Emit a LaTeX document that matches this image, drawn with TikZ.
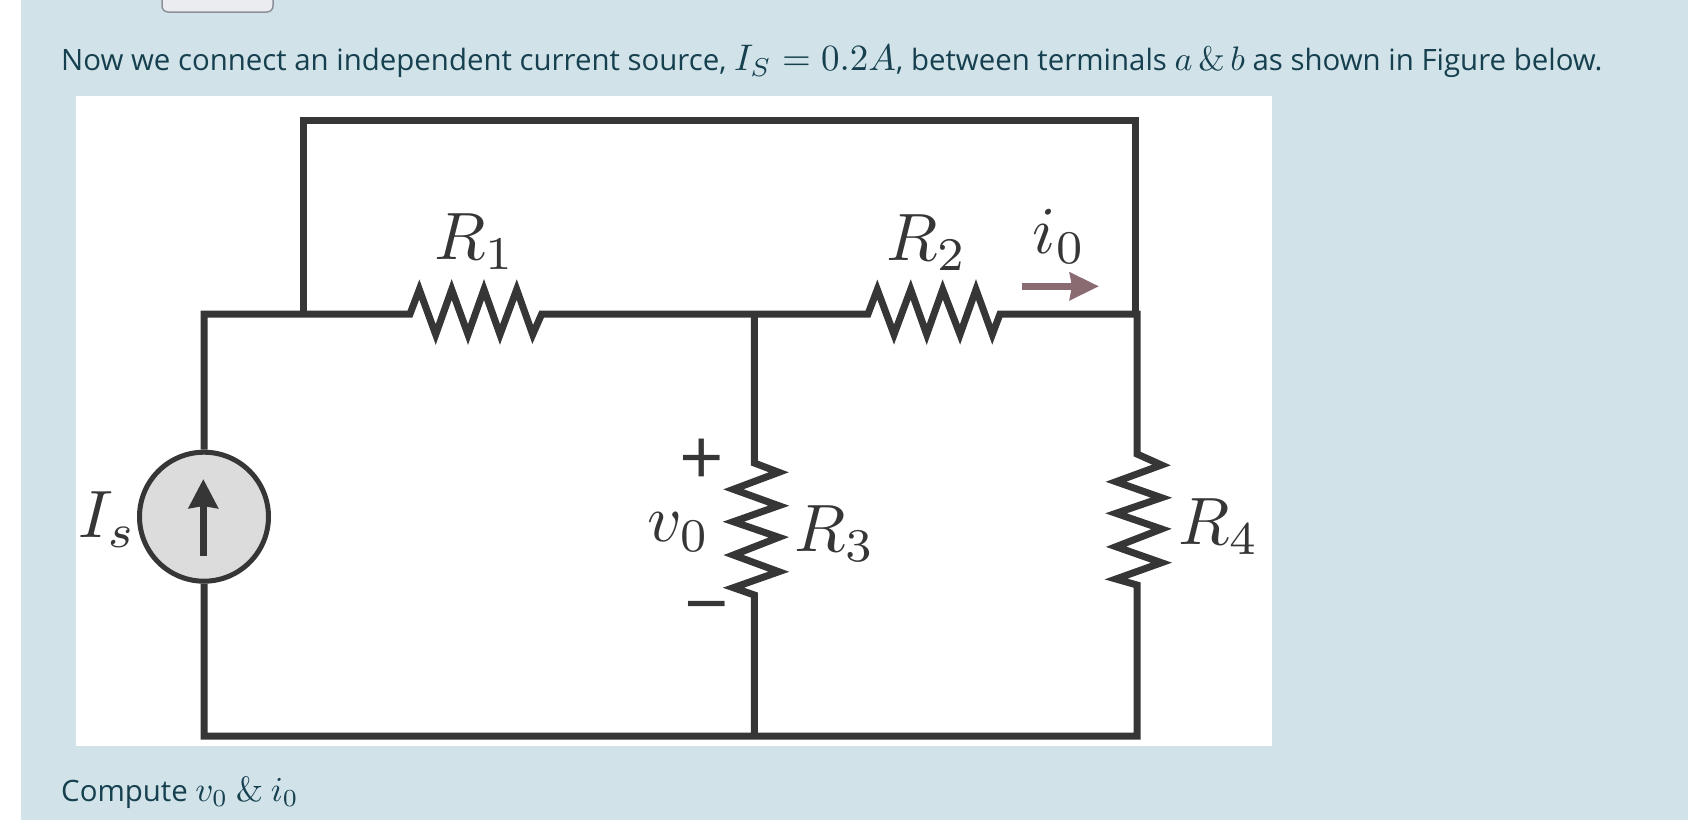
\documentclass[tikz,border=0pt]{standalone}
\usepackage[no-math]{fontspec}
\setmainfont{Open Sans}
\usetikzlibrary{arrows.meta}
\newlength{\du}
\setlength{\du}{1pt}
\newcommand{\bigmath}[1]{\scalebox{6.7}{\(#1\)}}
\newcommand{\textmath}[2][3.7]{\scalebox{#1}{\fontsize{10}{12}\selectfont\(#2\)}}
\tikzset{
  wire/.style={draw=wirecolor,line width=7\du,miter limit=10},
  biglabel/.style={inner sep=0pt,anchor=base west,text=wirecolor},
  signlabel/.style={inner sep=0pt,anchor=base,text=wirecolor,font=\fontsize{78}{78}\selectfont},
  bodytext/.style={inner sep=0pt,anchor=base west,text=textcolor,font=\fontsize{29.4}{32}\selectfont},
}
\begin{document}
\begin{tikzpicture}
\pgftransformxscale{1.000000}
\pgftransformyscale{-1.000000}
\definecolor{wirecolor}{rgb}{0.211765, 0.211765, 0.211765}
\definecolor{textcolor}{rgb}{0.086275, 0.250980, 0.309804}
\definecolor{panelcolor}{rgb}{0.819608, 0.890196, 0.909804}
\definecolor{sourcecolor}{rgb}{0.862745, 0.862745, 0.862745}
\definecolor{currentcolor}{rgb}{0.541176, 0.419608, 0.447059}
\definecolor{buttoncolor}{rgb}{0.921569, 0.925490, 0.941176}
\definecolor{buttonline}{rgb}{0.549020, 0.564706, 0.600000}
\path[use as bounding box,clip] (0\du,0\du) rectangle (1688\du,820\du);
\fill[white] (0\du,0\du) rectangle (1688\du,820\du);
\fill[panelcolor] (21\du,0\du) rectangle (1688\du,820\du);
\fill[white] (76\du,96\du) rectangle (1272\du,745.5\du);
\draw[fill=buttoncolor,draw=buttonline,line width=1.5\du,rounded corners=6\du] (162\du,-12\du) rectangle (273\du,12\du);
% texts
\node[bodytext] (question) at (61\du,70.5\du){Now we connect an independent current source, \textmath{I_S = 0.2A}, between terminals \textmath[3.4]{a\,\&\,b} as shown in Figure below.};
\node[bodytext] (task) at (61\du,801\du){Compute \textmath[3.5]{v_0 \mathbin{\&} i_0}};
% corners and junctions
\coordinate (topleft) at (303.000000\du,120.500000\du);
\coordinate (topright) at (1135.500000\du,120.500000\du);
\coordinate (leftfork) at (303.000000\du,314.000000\du);
\coordinate (rightfork) at (1135.500000\du,314.000000\du);
\coordinate (leftcorner) at (204.000000\du,314.000000\du);
\coordinate (midfork) at (754.300000\du,314.000000\du);
\coordinate (rightcorner) at (1137.000000\du,314.000000\du);
\coordinate (bottomleft) at (204.000000\du,736.200000\du);
\coordinate (bottommid) at (754.300000\du,736.200000\du);
\coordinate (bottomright) at (1137.000000\du,736.200000\du);
% resistor ends
\coordinate (rone1) at (410.000000\du,314.000000\du);
\coordinate (rone2) at (541.700000\du,314.000000\du);
\coordinate (rtwo1) at (868.000000\du,314.000000\du);
\coordinate (rtwo2) at (1000.000000\du,314.000000\du);
\coordinate (rthree1) at (754.300000\du,463.000000\du);
\coordinate (rthree2) at (754.300000\du,595.000000\du);
\coordinate (rfour1) at (1137.000000\du,454.000000\du);
\coordinate (rfour2) at (1137.000000\du,585.000000\du);
% source
\node[circle,draw=wirecolor,fill=sourcecolor,line width=5\du,minimum size=129\du,inner sep=0pt] (src) at (204.000000\du,516.700000\du){};
% outer loop with the resistors in it
\draw[wire] (src.north) -- (leftcorner) -- (rone1) -- (419.300000\du,289.500000\du) -- (435.700000\du,334.500000\du) -- (451.700000\du,289.500000\du) -- (468.000000\du,334.500000\du) -- (484.000000\du,289.500000\du) -- (500.000000\du,334.500000\du) -- (516.700000\du,289.500000\du) -- (532.700000\du,334.500000\du) -- (rone2) -- (midfork) -- (rtwo1) -- (877.300000\du,289.500000\du) -- (894.000000\du,334.500000\du) -- (910.700000\du,289.500000\du) -- (926.700000\du,334.500000\du) -- (942.700000\du,289.500000\du) -- (960.000000\du,334.500000\du) -- (976.000000\du,289.500000\du) -- (992.300000\du,334.500000\du) -- (rtwo2) -- (rightcorner) -- (rfour1) -- (1161.500000\du,465.000000\du) -- (1116.000000\du,481.700000\du) -- (1161.500000\du,497.700000\du) -- (1116.000000\du,513.300000\du) -- (1161.500000\du,529.000000\du) -- (1116.000000\du,546.700000\du) -- (1161.500000\du,562.700000\du) -- (1116.000000\du,579.000000\du) -- (rfour2) -- (bottomright) -- (bottomleft) -- (src.south);
\draw[wire] (midfork) -- (rthree1) -- (778.800000\du,472.300000\du) -- (733.400000\du,489.300000\du) -- (778.800000\du,505.700000\du) -- (733.400000\du,521.700000\du) -- (778.800000\du,537.300000\du) -- (733.400000\du,555.000000\du) -- (778.800000\du,571.700000\du) -- (733.400000\du,587.700000\du) -- (rthree2) -- (bottommid);
\draw[wire] (leftfork) -- (topleft) -- (topright) -- (rightfork);
% arrows
\coordinate (srctail) at (203.300000\du,556.000000\du);
\coordinate (srchead) at (203.300000\du,479.000000\du);
\draw[draw=wirecolor,line width=7\du,-{Stealth[length=29pt,width=29pt,inset=2pt]}] (srctail) -- (srchead);
\coordinate (iotail) at (1021.700000\du,286.300000\du);
\coordinate (iohead) at (1099.000000\du,286.300000\du);
\draw[draw=currentcolor,line width=7\du,-{Stealth[length=29pt,width=27pt,inset=2pt]}] (iotail) -- (iohead);
% labels
\node[biglabel] (rlabelone) at (434.000000\du,259.000000\du){\bigmath{R_1}};
\node[biglabel] (rlabeltwo) at (886.000000\du,260.700000\du){\bigmath{R_2}};
\node[biglabel] (rlabelthree) at (794.000000\du,551.700000\du){\bigmath{R_3}};
\node[biglabel] (rlabelfour) at (1178.000000\du,544.000000\du){\bigmath{R_4}};
\node[biglabel] (volt) at (647.300000\du,541.700000\du){\bigmath{v_0}};
\node[biglabel] (curr) at (1032.700000\du,253.300000\du){\bigmath{i_0}};
\node[biglabel] (srclabel) at (78.000000\du,537.300000\du){\bigmath{I_s}};
\node[signlabel] (plus) at (701.700000\du,485.000000\du){+};
\node[signlabel] (minus) at (706.300000\du,631.000000\du){−};
\end{tikzpicture}
\end{document}
